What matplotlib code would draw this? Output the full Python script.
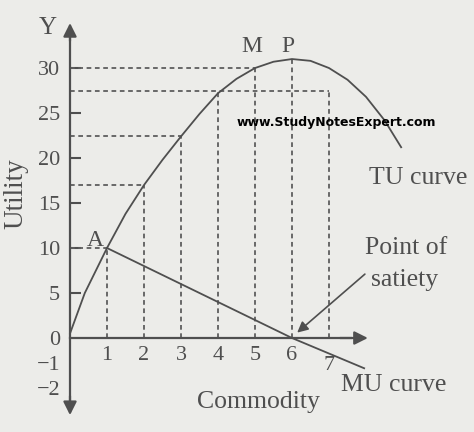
import numpy as np
import matplotlib
matplotlib.use("Agg")
import matplotlib.pyplot as plt

# ---- data ----
tu_x = [0, 0.4, 1, 1.5, 2, 2.5, 3, 3.5, 4, 4.5, 5, 5.5, 6, 6.5, 7, 7.5, 8, 8.5, 8.95]
tu_y = [0.5, 5, 10, 13.8, 17, 19.8, 22.4, 24.9, 27.2, 28.8, 30, 30.7, 31.0, 30.8, 30.0, 28.7, 26.8, 24.2, 21.2]

mu_x = [1, 6, 7.95]
mu_y = [10, 0, -1.2]

units = [1, 2, 3, 4, 5, 6, 7]
tu_at_units = [10, 17, 22.4, 27.4, 30, 31.0, 27.4]   # heights of the dotted guides
h_levels = [10, 17, 22.4, 27.4, 30]
h_reach = [1, 2, 3, 7, 5]

ytick_vals = [-2, -1, 0, 5, 10, 15, 20, 25, 30]
ytick_txt = ['\u22122', '\u22121', '0', '5', '10', '15', '20', '25', '30']

ink = '#4f4f4f'
bg = '#ecece9'
serif = 'Liberation Serif'
neg = 2.8  # the drawing stretches the part below zero


def fwd(y):
    y = np.asarray(y, dtype=float)
    return np.where(y < 0, y * neg, y)


def inv(y):
    y = np.asarray(y, dtype=float)
    return np.where(y < 0, y / neg, y)


fig = plt.figure(figsize=(4.74, 4.32), dpi=100, facecolor=bg)
ax = fig.add_axes([0, 0, 1, 1], facecolor=bg)
ax.set_yscale('function', functions=(fwd, inv))
ax.set_xlim(-1.892, 10.919)
ax.set_ylim(-3.73, 37.56)

# axes through the origin
for s in ['top', 'right']:
    ax.spines[s].set_visible(False)
ax.spines['left'].set_position(('data', 0))
ax.spines['bottom'].set_position(('data', 0))
ax.spines['left'].set_bounds(-2.9, 34.0)
ax.spines['bottom'].set_bounds(0, 7.6)
for s in ['left', 'bottom']:
    ax.spines[s].set_color(ink)
    ax.spines[s].set_linewidth(1.6)

# arrow heads
arr = dict(arrowstyle='-|>', mutation_scale=20, lw=1.6, color=ink, shrinkA=0, shrinkB=0)
ax.annotate('', xy=(0, 35.0), xytext=(0, 33.0), arrowprops=arr)
ax.annotate('', xy=(0, -3.06), xytext=(0, -2.3), arrowprops=arr)
ax.annotate('', xy=(8.05, 0), xytext=(7.3, 0), arrowprops=arr)

# ticks
ax.set_yticks(ytick_vals)
ax.set_yticklabels(ytick_txt, fontfamily=serif, fontsize=16, color=ink)
ax.tick_params(axis='y', direction='in', length=8, width=1.5, color=ink, pad=7)
for t, v in zip(ax.yaxis.get_major_ticks(), ytick_vals):
    if v <= 0:
        t.tick1line.set_visible(False)
ax.set_xticks(units)
ax.set_xticklabels([str(u) for u in units], fontfamily=serif, fontsize=16, color=ink)
ax.tick_params(axis='x', length=0, pad=6)
ax.xaxis.get_major_ticks()[-1].set_pad(13)

# dotted guides
dot = dict(color='#5e5e5e', lw=1.3, ls=(0, (2.6, 2.0)))
for u, h in zip(units, tu_at_units):
    ax.plot([u, u], [0, h], **dot)
for h, r in zip(h_levels, h_reach):
    ax.plot([0, r], [h, h], **dot)

# curves
ax.plot(tu_x, tu_y, color=ink, lw=1.3, solid_joinstyle='round')
ax.plot(mu_x, mu_y, color=ink, lw=1.3)

# labels
tx = dict(fontfamily=serif, color=ink, ha='center', va='center')
ax.text(-0.59, 34.4, 'Y', fontsize=18, **tx)
ax.text(0.68, 10.8, 'A', fontsize=17, **tx)
ax.text(4.92, 32.4, 'M', fontsize=17, **tx)
ax.text(5.89, 32.4, 'P', fontsize=17, **tx)
ax.text(9.4, 17.8, 'TU curve', fontsize=18.5, **tx)
ax.text(9.08, 10.0, 'Point of', fontsize=18.5, **tx)
ax.text(9.03, 6.4, 'satiety', fontsize=18.5, **tx)
ax.text(8.75, -1.86, 'MU curve', fontsize=18.5, **tx)
ax.text(5.08, -2.55, 'Commodity', fontsize=18.5, **tx)
ax.text(-1.46, 16.0, 'Utility', fontsize=19.5, rotation=90, **tx)
ax.text(7.19, 24.0, 'www.StudyNotesExpert.com', fontsize=9, fontweight='bold',
        family='DejaVu Sans', color='black', ha='center', va='center')

ax.annotate('', xy=(6.14, 0.6), xytext=(7.97, 7.1),
            arrowprops=dict(arrowstyle='-|>', mutation_scale=16, lw=1.2, color=ink,
                            shrinkA=0, shrinkB=0))

fig.savefig('out.png', dpi=100, facecolor=bg)
